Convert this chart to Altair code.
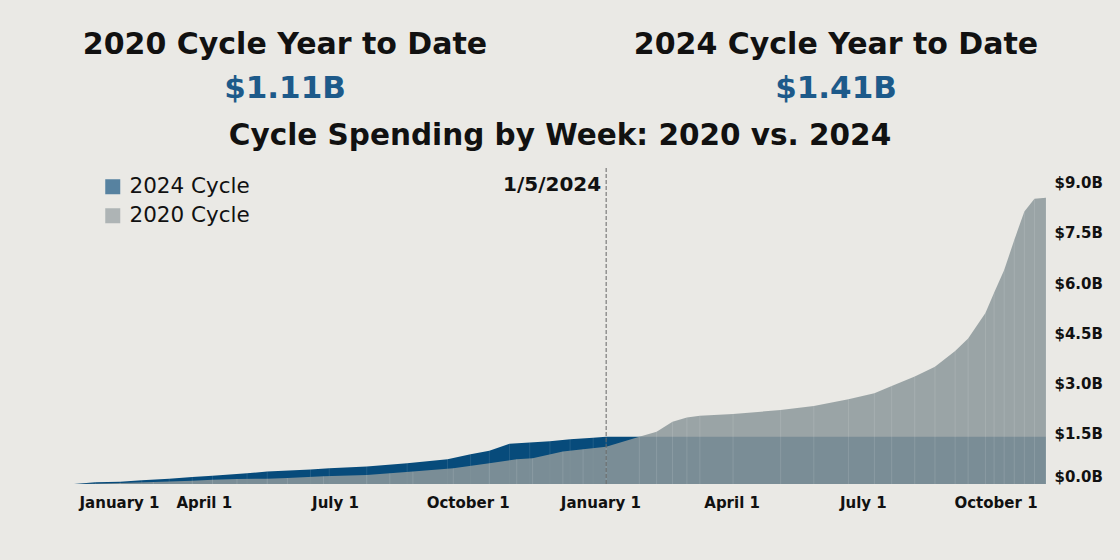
import altair as alt
import pandas as pd

# Cumulative spending ($B) for each cycle, placed on the 2023-2024 calendar
blue_dates = ["2023-01-01", "2023-01-16", "2023-02-02", "2023-02-17", "2023-03-08",
              "2023-03-24", "2023-04-07", "2023-05-01", "2023-05-15", "2023-06-14",
              "2023-06-27", "2023-07-23", "2023-08-20", "2023-09-17", "2023-10-03",
              "2023-10-16", "2023-10-30", "2023-11-13", "2023-11-27", "2023-12-11",
              "2023-12-27", "2024-01-05", "2024-11-05"]
blue_vals = [0, 0.05, 0.07, 0.11, 0.16, 0.21, 0.25, 0.32, 0.37, 0.43,
             0.47, 0.52, 0.62, 0.74, 0.89, 0.99, 1.20, 1.24, 1.28, 1.34,
             1.38, 1.41, 1.41]

gray_dates = ["2023-01-01", "2023-01-14", "2023-02-02", "2023-02-25", "2023-03-24",
              "2023-04-07", "2023-04-24", "2023-05-15", "2023-05-29", "2023-06-23",
              "2023-07-23", "2023-08-08", "2023-08-24", "2023-09-21", "2023-10-16",
              "2023-11-04", "2023-11-15", "2023-12-06", "2023-12-20", "2024-01-05",
              "2024-01-28", "2024-02-09", "2024-02-20", "2024-03-01", "2024-03-10",
              "2024-04-02", "2024-05-05", "2024-05-28", "2024-06-21", "2024-07-09",
              "2024-07-21", "2024-08-06", "2024-08-20", "2024-09-03", "2024-09-12",
              "2024-09-24", "2024-09-30", "2024-10-07", "2024-10-14", "2024-10-21",
              "2024-10-28", "2024-11-05"]
gray_vals = [0, 0.01, 0.03, 0.06, 0.10, 0.13, 0.15, 0.16, 0.18, 0.23,
             0.27, 0.32, 0.37, 0.47, 0.62, 0.74, 0.77, 0.97, 1.04, 1.11,
             1.41, 1.56, 1.86, 1.99, 2.04, 2.09, 2.21, 2.33, 2.53, 2.71,
             2.93, 3.21, 3.50, 3.97, 4.35, 5.11, 5.71, 6.39, 7.29, 8.14,
             8.52, 8.55]

series_names = ["2024 Cycle", "2020 Cycle"]
today = "2024-01-05"
today_label = "1/5/2024"
tick_dates = [(2023, 1, 1), (2023, 4, 1), (2023, 7, 1), (2023, 10, 1),
              (2024, 1, 1), (2024, 4, 1), (2024, 7, 1), (2024, 10, 1)]
y_ticks = [0, 1.5, 3, 4.5, 6, 7.5, 9]

BLUE = "#074b7b"
GRAY = "#8d989b"
BG = "#eae9e5"
INK = "#111111"
FONT = "DejaVu Sans"

W, H = 972, 316
PAD = {"left": 74, "top": 168, "right": 74, "bottom": 76}

blue_df = pd.DataFrame({"date": blue_dates, "value": blue_vals, "series": series_names[0]})
gray_df = pd.DataFrame({"date": gray_dates, "value": gray_vals, "series": series_names[1]})

ytd_2020 = gray_vals[gray_dates.index(today)]
ytd_2024 = blue_vals[blue_dates.index(today)]

x_scale = alt.Scale(type="utc",
                    domain=[alt.DateTime(year=2023, month=1, date=1, utc=True),
                            alt.DateTime(year=2024, month=11, date=5, utc=True)])
y_scale = alt.Scale(domain=[0, 9.44], nice=False)
color_scale = alt.Scale(domain=series_names, range=[BLUE, GRAY])

x_axis = alt.Axis(
    values=[alt.DateTime(year=y, month=m, date=d, utc=True) for y, m, d in tick_dates],
    labelExpr="utcFormat(datum.value, '%B %-d')",
    title=None, grid=False, domain=False, ticks=False,
    labelFontSize=15, labelFontWeight="bold", labelColor=INK,
    labelFont=FONT, labelPadding=11, labelFlush=True, labelFlushOffset=-5,
)
y_axis = alt.Axis(
    orient="right", values=y_ticks,
    labelExpr="'$' + format(datum.value, '.1f') + 'B'",
    title=None, grid=False, domain=False, ticks=False,
    labelFontSize=15, labelFontWeight="bold", labelColor=INK,
    labelFont=FONT, labelPadding=8, labelFlush=True,
)

legend = alt.Legend(
    title=None, orient="none", legendX=28, legendY=8,
    symbolType="square", symbolSize=225, symbolStrokeWidth=0, symbolOpacity=0.65,
    labelFontSize=21.5, labelFont=FONT, labelColor=INK, labelOffset=6,
    rowPadding=6,
)

color_enc = alt.Color("series:N", scale=color_scale, legend=legend, sort=series_names)

blue_area = alt.Chart(blue_df).mark_area().encode(
    x=alt.X("date:T", scale=x_scale, axis=x_axis),
    y=alt.Y("value:Q", scale=y_scale, axis=y_axis),
    color=color_enc,
)
blue_seams = alt.Chart(blue_df).mark_rule(color="white", strokeOpacity=0.1, strokeWidth=1).encode(
    x="date:T", y=alt.Y("value:Q"), y2=alt.datum(0),
)
gray_area = alt.Chart(gray_df).mark_area(fillOpacity=0.86).encode(
    x="date:T",
    y="value:Q",
    color=color_enc,
)
gray_seams = alt.Chart(gray_df).mark_rule(color="white", strokeOpacity=0.12, strokeWidth=1).encode(
    x="date:T", y=alt.Y("value:Q"), y2=alt.datum(0),
)

today_df = pd.DataFrame({"date": [today], "label": [today_label]})
today_rule = alt.Chart(today_df).mark_rule(color="#666666", strokeDash=[4, 2], strokeWidth=1).encode(
    x="date:T", y=alt.value(0), y2=alt.value(H),
)
today_text = alt.Chart(today_df).mark_text(
    align="right", baseline="alphabetic", dx=-5, fontSize=20, fontWeight="bold",
    font=FONT, color=INK,
).encode(x="date:T", y=alt.value(23), text="label:N")

headers = pd.DataFrame({
    "text": ["2020 Cycle Year to Date", "2024 Cycle Year to Date",
             f"${ytd_2020:.2f}B", f"${ytd_2024:.2f}B",
             "Cycle Spending by Week: 2020 vs. 2024"],
    "px": [211, 762, 211, 762, 486],
    "py": [-114, -114, -70, -70, -23],
    "size": [30, 30, 31, 31, 29.5],
    "col": [INK, INK, "#1d5a8a", "#1d5a8a", INK],
})
header_text = alt.Chart(headers).mark_text(
    align="center", baseline="alphabetic", fontWeight="bold", font=FONT,
).encode(
    x=alt.X("px:Q", scale=None), y=alt.Y("py:Q", scale=None),
    text="text:N", size=alt.Size("size:Q", scale=None, legend=None),
    color=alt.Color("col:N", scale=None, legend=None),
)

chart = alt.layer(
    blue_area, blue_seams, gray_area, gray_seams, today_rule, today_text, header_text
).properties(
    width=W, height=H, padding=PAD,
    autosize=alt.AutoSizeParams(type="none"),
    background=BG,
).configure_view(stroke=None)

chart.save("out.html", embed_options={"renderer": "svg", "actions": False})
